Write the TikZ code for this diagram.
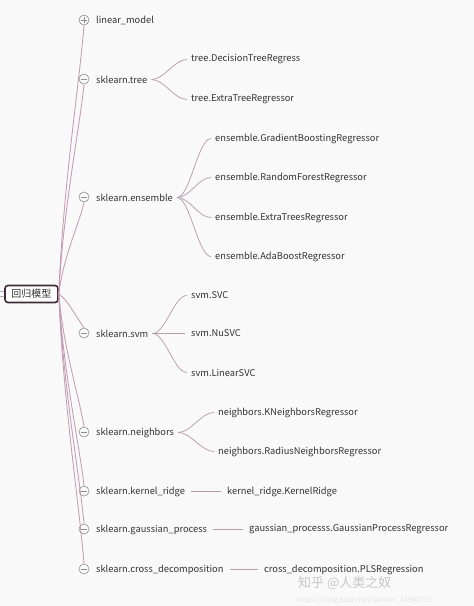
\documentclass[tikz,border=0pt]{standalone}
\usepackage{fontspec}
\setmainfont{Noto Sans CJK SC}
\definecolor{bgc}{HTML}{F9F9F9}
\definecolor{txt}{HTML}{333333}
\definecolor{rootc}{HTML}{3E2B3A}
\definecolor{mauve}{HTML}{C49CB2}
\definecolor{leafc}{HTML}{B89EAB}
\definecolor{circc}{HTML}{8E8E8E}
\tikzset{
  lbl/.style={font=\fontsize{9.3}{11}\selectfont, text=txt, inner sep=2pt, anchor=west},
  cbase/.style={circle, draw=circc, line width=0.6pt, minimum size=10pt, inner sep=0pt, fill=bgc},
  cminus/.style={cbase, path picture={\draw[circc, line width=0.6pt] ([xshift=-3pt]path picture bounding box.center) -- ([xshift=3pt]path picture bounding box.center);}},
  cplus/.style={cbase, path picture={\draw[circc, line width=0.6pt] ([xshift=-3pt]path picture bounding box.center) -- ([xshift=3pt]path picture bounding box.center) ([yshift=-3pt]path picture bounding box.center) -- ([yshift=3pt]path picture bounding box.center);}},
  rootconn/.style={draw=mauve, line width=0.85pt},
  leafconn/.style={draw=leafc, line width=0.75pt},
  rootbox/.style={draw=rootc, line width=1.6pt, rounded corners=3pt, fill=white, minimum width=53pt, minimum height=17pt, inner sep=2pt, font=\fontsize{10}{12}\selectfont, text=txt}
}
\begin{document}
\begin{tikzpicture}[x=1pt,y=-1pt]
\useasboundingbox (0,0) rectangle (474,606);
\fill[bgc] (0,0) rectangle (474,606);

% root
\node[rootbox] (root) at (31.5,294) {回归模型};
\coordinate (s1) at (0,291.5);
\coordinate (s2) at (0,296.5);
\draw[circc!70, line width=0.6pt] (s1) -- (root.west |- s1);
\draw[circc!70, line width=0.6pt] (s2) -- (root.west |- s2);

% branch circles
\node[cplus]  (c1) at (84,20) {};
\node[cminus] (c2) at (84,79) {};
\node[cminus] (c3) at (84,197) {};
\node[cminus] (c4) at (84,333) {};
\node[cminus] (c5) at (84,432) {};
\node[cminus] (c6) at (84,491) {};
\node[cminus] (c7) at (84,529) {};
\node[cminus] (c8) at (84,569) {};

% branch labels
\node[lbl] (b1) at (94,20.5) {linear\_model};
\node[lbl] (b2) at (94,79.5) {sklearn.tree};
\node[lbl] (b3) at (94,197.5) {sklearn.ensemble};
\node[lbl] (b4) at (94,333.5) {sklearn.svm};
\node[lbl] (b5) at (94,432.5) {sklearn.neighbors};
\node[lbl] (b6) at (94,491.5) {sklearn.kernel\_ridge};
\node[lbl] (b7) at (94,529.5) {sklearn.gaussian\_process};
\node[lbl] (b8) at (94,569.5) {sklearn.cross\_decomposition};

% leaves
\node[lbl] (t1) at (189,59.5) {tree.DecisionTreeRegress};
\node[lbl] (t2) at (189,99.5) {tree.ExtraTreeRegressor};
\node[lbl] (e1) at (213,138.5) {ensemble.GradientBoostingRegressor};
\node[lbl] (e2) at (213,177.5) {ensemble.RandomForestRegressor};
\node[lbl] (e3) at (213,217.5) {ensemble.ExtraTreesRegressor};
\node[lbl] (e4) at (213,256.5) {ensemble.AdaBoostRegressor};
\node[lbl] (v1) at (189,295.5) {svm.SVC};
\node[lbl] (v2) at (189,333.5) {svm.NuSVC};
\node[lbl] (v3) at (189,372.5) {svm.LinearSVC};
\node[lbl] (n1) at (216,412.5) {neighbors.KNeighborsRegressor};
\node[lbl] (n2) at (216,451.5) {neighbors.RadiusNeighborsRegressor};
\node[lbl] (k1) at (225,491.5) {kernel\_ridge.KernelRidge};
\node[lbl] (g1) at (247,529.5) {gaussian\_processs.GaussianProcessRegressor};
\node[lbl] (p1) at (262,569.5) {cross\_decomposition.PLSRegression};

% root connectors
\draw[rootconn] (root.east) .. controls (63,186) and (80,79) .. (c1.south);
\draw[rootconn] (root.east) .. controls (63,210) and (80,126) .. (c2.south);
\draw[rootconn] (root.east) .. controls (63,257) and (80,222) .. (c3.south);
\draw[rootconn] (root.east) .. controls (68,300) and (78,320) .. (c4.north);
\draw[rootconn] (root.east) .. controls (63,347) and (80,400) .. (c5.north);
\draw[rootconn] (root.east) .. controls (63,371) and (80,448) .. (c6.north);
\draw[rootconn] (root.east) .. controls (63,386) and (80,478) .. (c7.north);
\draw[rootconn] (root.east) .. controls (63,402) and (80,510) .. (c8.north);

% leaf connectors
\foreach \a/\b in {b2/t1,b2/t2,b3/e1,b3/e2,b3/e3,b3/e4,b4/v1,b4/v3,b5/n1,b5/n2}
  \draw[leafconn] ([xshift=2pt]\a.east) .. controls +(13,0) and +(-13,0) .. ([xshift=-2pt]\b.west);
\foreach \a/\b in {b4/v2,b6/k1,b7/g1,b8/p1}
  \draw[leafconn] ([xshift=4pt]\a.east) -- ([xshift=-4pt]\b.west);

% watermark
\node[font=\fontsize{13}{15}\selectfont, text=black!22, anchor=west, inner sep=0pt] (wm) at (298,583) {知乎 @人类之奴};
\node[font=\fontsize{7.5}{9}\selectfont, text=black!10, anchor=west, inner sep=0pt] (url) at (296,600) {https://blog.csdn.net/weixin\_41940705};
\end{tikzpicture}
\end{document}
